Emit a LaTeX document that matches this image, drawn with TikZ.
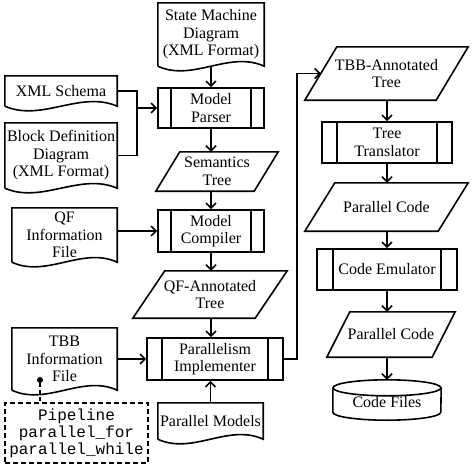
\documentclass[tikz,border=0pt]{standalone}
\usepackage{fontspec}
\setmainfont{Liberation Serif}
\setmonofont{Liberation Mono}
\usetikzlibrary{calc,arrows.meta}
\tikzset{
  lw/.style={line width=1.6pt},
  shp/.style={lw, line join=miter},
  txt/.style={align=center, inner sep=1pt, font=\fontsize{16}{17.5}\selectfont},
  proc/.style={txt, draw, lw},
  arr/.style={lw, -{Straight Barb[length=5pt,width=10pt,line width=1.6pt]}},
  dashbox/.style={draw, lw, dash pattern=on 5pt off 3pt, align=center, inner sep=1pt,
    font=\ttfamily\fontsize{16}{17}\selectfont},
}
\newcommand\docshape[1]{\draw[shp] (#1.south west) -- (#1.north west) -- (#1.north east) -- (#1.south east)
  .. controls ($(#1.south east)!0.33!(#1.south west)+(0,-16)$) and ($(#1.south east)!0.67!(#1.south west)+(0,16)$) .. (#1.south west);}
\newcommand\predefshape[2]{\draw[shp] ($(#1.north west)+(#2,0)$) -- ($(#1.south west)+(#2,0)$);
  \draw[shp] ($(#1.north east)-(#2,0)$) -- ($(#1.south east)-(#2,0)$);}
\newcommand\parashape[2]{\draw[shp] ($(#1.north west)+(#2/2,0)$) -- ($(#1.north east)+(#2/2,0)$) -- ($(#1.south east)-(#2/2,0)$) -- ($(#1.south west)-(#2/2,0)$) -- cycle;}
\begin{document}
\begin{tikzpicture}[x=1pt,y=-1pt]
\useasboundingbox (0,0) rectangle (474,466);
% left / middle column
\node[txt, minimum width=106pt, minimum height=63pt] (smd) at (211,34.5) {State Machine\\Diagram\\(XML Format)};
\docshape{smd}
\node[proc, minimum width=106pt, minimum height=40pt] (parser) at (211,108) {Model\\Parser};
\predefshape{parser}{14}
\node[txt, minimum width=112pt, minimum height=30pt] (xmls) at (61,91) {XML Schema};
\docshape{xmls}
\node[txt, minimum width=112pt, minimum height=65pt] (bdd) at (61,155.5) {Block Definition\\Diagram\\(XML Format)};
\docshape{bdd}
\node[txt, minimum width=98pt, minimum height=39pt] (sem) at (217,171.5) {Semantics\\Tree};
\parashape{sem}{24}
\node[proc, minimum width=106pt, minimum height=42pt] (comp) at (211,231) {Model\\Compiler};
\predefshape{comp}{14}
\node[txt, minimum width=105pt, minimum height=54pt] (qf) at (64.5,235) {QF\\Information\\File};
\docshape{qf}
\node[txt, minimum width=122pt, minimum height=47pt] (qfat) at (210,294.5) {QF-Annotated\\Tree};
\parashape{qfat}{32}
\node[proc, minimum width=136pt, minimum height=42pt] (par) at (215,359) {Parallelism\\Implementer};
\predefshape{par}{16}
\node[txt, minimum width=105pt, minimum height=62pt] (tbb) at (64.5,359) {TBB\\Information\\File};
\docshape{tbb}
\node[txt, minimum width=105pt, minimum height=36pt] (pm) at (210.5,421) {Parallel Models};
\docshape{pm}
\node[dashbox, minimum width=143pt, minimum height=60pt] (dbox) at (76.5,433) {Pipeline\\parallel\_for\\parallel\_while};
\node[circle, fill, inner sep=0pt, minimum size=6pt] (dot) at (40,380) {};
% right column
\node[txt, minimum width=131pt, minimum height=53pt] (tbbat) at (386.5,73.5) {TBB-Annotated\\Tree};
\parashape{tbbat}{32}
\node[proc, minimum width=130pt, minimum height=41pt] (tt) at (387,142.5) {Tree\\Translator};
\predefshape{tt}{16}
\node[txt, minimum width=133pt, minimum height=48pt] (pc1) at (386.5,207) {Parallel Code};
\parashape{pc1}{30}
\node[proc, minimum width=140pt, minimum height=41pt] (ce) at (387,269.5) {Code Emulator};
\predefshape{ce}{17}
\node[txt, minimum width=105pt, minimum height=45pt] (pc2) at (391,334.5) {Parallel Code};
\parashape{pc2}{23}
\node[txt, minimum width=108pt, minimum height=40pt, text depth=0pt, yshift=0pt] (cf) at (387,400) {\raisebox{-4pt}{Code Files}};
\draw[shp] ($(cf.north west)+(0,8)$) -- ($(cf.south west)+(0,-8)$)
  arc[start angle=180, end angle=0, x radius=54, y radius=8] -- ($(cf.north east)+(0,8)$);
\draw[shp] ($(cf.north)+(0,8)$) ellipse[x radius=54, y radius=8];
% connectors
\coordinate (j) at (137,108);
\coordinate (k) at (297,73.5);
\draw[arr] (smd.south) -- (smd.south |- parser.north);
\draw[shp] (xmls.east) -| (j) |- (bdd.east);
\draw[arr] (j) -- (parser.west);
\draw[arr] (parser.south) -- (parser.south |- sem.north);
\draw[arr] (parser.south |- sem.south) -- (comp.north);
\draw[arr] (qf.east |- comp.west) -- (comp.west);
\draw[arr] (comp.south) -- (comp.south |- qfat.north);
\draw[arr] (comp.south |- qfat.south) -- (comp.south |- par.north);
\draw[arr] (tbb.east) -- (par.west);
\draw[arr] (pm.north) -- (pm.north |- par.south);
\draw[lw, dash pattern=on 4pt off 3pt] (dot) -- (dot |- dbox.north);
\draw[arr] (par.east) -| (k) -- (tbbat.west);
\draw[arr] (tt.north |- tbbat.south) -- (tt.north);
\draw[arr] (tt.south) -- (tt.south |- pc1.north);
\draw[arr] (tt.south |- pc1.south) -- (ce.north);
\draw[arr] (ce.south) -- (ce.south |- pc2.north);
\draw[arr] (cf.north |- pc2.south) -- (cf.north);
\end{tikzpicture}
\end{document}
